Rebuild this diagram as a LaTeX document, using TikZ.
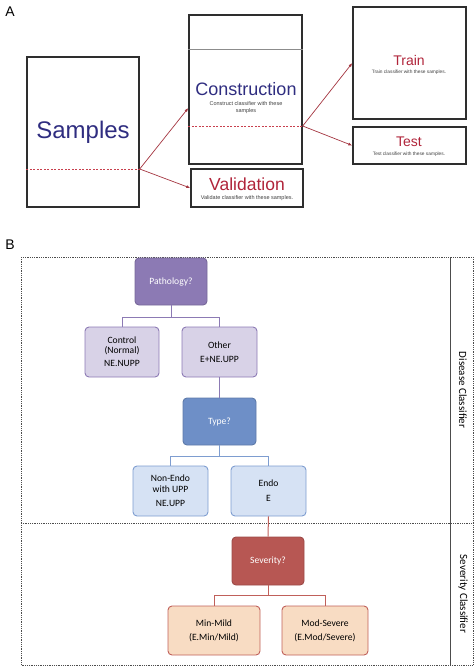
\documentclass[tikz,border=0pt]{standalone}
\usepackage{fontspec}
\setmainfont{Liberation Sans}
\newfontfamily\calib{Carlito}
\usetikzlibrary{positioning,arrows.meta}

\definecolor{navy}{HTML}{2F2D80}
\definecolor{redlab}{HTML}{B0243A}
\definecolor{arrred}{HTML}{A3343F}
\definecolor{cutred}{HTML}{C8404E}
\definecolor{boxgray}{HTML}{2E2E2E}
\definecolor{purpdark}{HTML}{8C7AB4}
\definecolor{purplite}{HTML}{D8D2E7}
\definecolor{bluedark}{HTML}{6E8FC7}
\definecolor{bluelite}{HTML}{D6E2F4}
\definecolor{blueline}{HTML}{7E9DD0}
\definecolor{reddark}{HTML}{B75753}
\definecolor{peach}{HTML}{F8DCC3}
\definecolor{redline}{HTML}{C0605A}

\begin{document}
\begin{tikzpicture}[x=1pt,y=-1pt,
	panel/.style={draw=boxgray,line width=1.4pt,inner sep=0pt},
	cut/.style={draw=cutred,dashed,line width=0.7pt,dash pattern=on 2pt off 1.5pt},
	arr/.style={-{Latex[length=4pt,width=3pt]},draw=arrred,line width=0.7pt},
	big/.style={font=\fontsize{#1}{#1}\selectfont},
	small/.style={font=\fontsize{#1}{#1}\selectfont,text=black!75,inner sep=0pt,align=center},
	tbox/.style={rounded corners=4pt,line width=0.9pt,align=center,inner sep=0pt,
		font=\calib\fontsize{9.6}{12}\selectfont},
	frame/.style={draw=black!70,densely dotted,line width=0.8pt},
	pline/.style={line width=1pt,draw=purpdark},
	bline/.style={line width=1pt,draw=blueline},
	rline/.style={line width=1pt,draw=redline}]

\useasboundingbox (0,0) rectangle (474,667);

% panel A
\node[font=\fontsize{14}{14}\selectfont] (labA) at (10,12) {A};

\node[panel,minimum width=112pt,minimum height=150pt] (smp) at (83,132) {};
\node[panel,minimum width=113pt,minimum height=149pt] (cons) at (245.5,89.5) {};
\node[panel,minimum width=112pt,minimum height=38pt] (val) at (247,188) {};
\node[panel,minimum width=113pt,minimum height=112pt] (train) at (409.5,63) {};
\node[panel,minimum width=113pt,minimum height=37pt] (test) at (409.5,145.5) {};

\draw[black!45,line width=0.5pt] (cons.west |- 0,49) -- (cons.east |- 0,49);
\draw[cut] (smp.west |- 0,169) -- (smp.east |- 0,169) coordinate (smpcut);
\draw[cut] (cons.west |- 0,126) -- (cons.east |- 0,126) coordinate (conscut);
\coordinate (consin) at (cons.west |- 0,108);

\node[big=24,text=navy] (smptxt) at (83,132) {Samples};
\node[big=18,text=navy] (constxt) at (246,89) {Construction};
\node[small=5.5,below=2pt of constxt] (conssub) {Construct classifier with these\\[1.5pt]samples};
\node[big=17.5,text=redlab] (valtxt) at (247,184) {Validation};
\node[small=5.5,below=1pt of valtxt] (valsub) {Validate classifier with these samples.};
\node[big=14,text=redlab] (traintxt) at (409,60) {Train};
\node[small=4.8,below=1pt of traintxt] (trainsub) {Train classifier with these samples.};
\node[big=14,text=redlab] (testtxt) at (409,142) {Test};
\node[small=4.8,below=1pt of testtxt] (testsub) {Test classifier with these samples.};

\draw[arr] (smpcut) -- (consin);
\draw[arr] (smpcut) -- (val.west);
\draw[arr] (conscut) -- (train.west);
\draw[arr] (conscut) -- (test.west);

% panel B
\node[font=\fontsize{14}{14}\selectfont] (labB) at (10,245) {B};

\draw[frame] (21,257) rectangle (473,665);
\draw[frame] (21,523) -- (473,523);
\draw[black!70,line width=0.8pt] (450,257) -- (450,665);

\node[rotate=-90,font=\calib\fontsize{11}{12}\selectfont] (dis) at (463,390) {Disease Classifier};
\node[rotate=-90,font=\calib\fontsize{11}{12}\selectfont] (sev) at (463,594) {Severity Classifier};

\node[tbox,fill=purpdark,draw=purpdark!85!black,text=white,minimum width=72pt,minimum height=47pt] (path) at (171,281.5) {Pathology?};
\node[tbox,fill=purplite,draw=purpdark,minimum width=74pt,minimum height=50pt] (ctrl) at (122,352) {Control\\[-2pt](Normal)\\[1pt]NE.NUPP};
\node[tbox,fill=purplite,draw=purpdark,minimum width=75pt,minimum height=50pt] (other) at (219.5,352) {Other\\[2pt]E+NE.UPP};

\node[tbox,fill=bluedark,draw=bluedark!85!black,text=white,minimum width=73pt,minimum height=47pt] (type) at (219.5,421.5) {Type?};
\node[tbox,fill=bluelite,draw=blueline,minimum width=75pt,minimum height=50pt] (nonendo) at (170.5,491) {Non-Endo\\[-1pt]with UPP\\[2pt]NE.UPP};
\node[tbox,fill=bluelite,draw=blueline,minimum width=75pt,minimum height=50pt] (endo) at (268.5,491) {Endo\\[3pt]E};

\node[tbox,fill=reddark,draw=reddark!85!black,text=white,minimum width=72pt,minimum height=48pt] (sevq) at (268,561) {Severity?};
\node[tbox,fill=peach,draw=redline,minimum width=92pt,minimum height=49pt] (minmild) at (214,630.5) {Min-Mild\\[2pt](E.Min/Mild)};
\node[tbox,fill=peach,draw=redline,minimum width=86pt,minimum height=49pt] (modsev) at (325,630.5) {Mod-Severe\\[2pt](E.Mod/Severe)};

\draw[pline] (path.south) -- ++(0,12) -| (ctrl.north);
\draw[pline] (path.south) -- ++(0,12) -| (other.north);
\draw[pline] (other.south) -- (type.north);
\draw[bline] (type.south) -- ++(0,11) -| (nonendo.north);
\draw[bline] (type.south) -- ++(0,11) -| (endo.north);
\draw[rline] (endo.south) -- (sevq.north);
\draw[rline] (sevq.south) -- ++(0,10) -| (minmild.north);
\draw[rline] (sevq.south) -- ++(0,10) -| (modsev.north);

\end{tikzpicture}
\end{document}
